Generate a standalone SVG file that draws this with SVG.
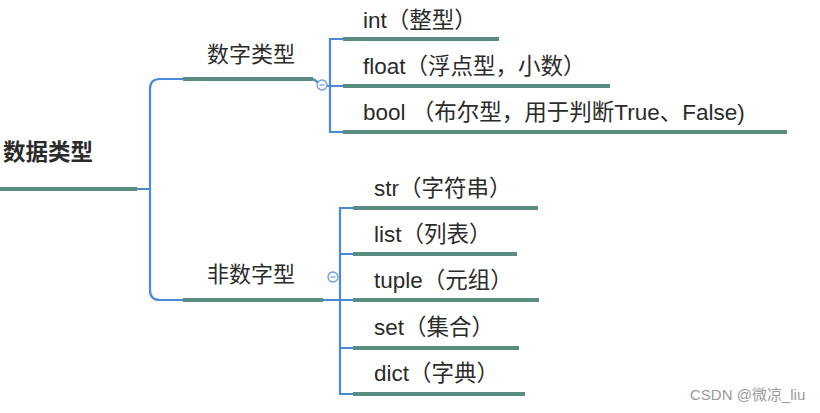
<svg xmlns="http://www.w3.org/2000/svg" width="820" height="413" viewBox="0 0 820 413">
<style>
text{font-family:"Liberation Sans","Noto Sans CJK SC",sans-serif;fill:#2b2b2b}
.leaf{font-size:22.5px}
.cat{font-size:22px}
.root{font-size:22.5px;font-weight:bold}
.ul{stroke:#5b8c80;stroke-width:4;fill:none}
.br{stroke:#4a88d8;stroke-width:2.2;fill:none}
.tog{fill:#fff;stroke:#6a9be0;stroke-width:1.3}
.tm{stroke:#6a9be0;stroke-width:1.2}
</style>
<rect width="820" height="413" fill="#fff"/>
<g id="connectors">
<path class="br" d="M137 189 H150 M183 79 H160 Q150 79 150 89 V290 Q150 300 160 300 H183"/>
<path class="br" d="M313 79 L322 85 M327 86 H343 M343 39 H330 V132 H343"/>
<path class="br" d="M323 300 H353 M353 208 H340 V394 H353 M340 254 H353 M340 348 H353"/>
</g>
<g id="root"><text class="root" x="3" y="160">数据类型</text><line class="ul" x1="0" y1="189" x2="137" y2="189"/></g>
<g id="num"><text class="cat" x="207" y="62">数字类型</text><line class="ul" x1="183" y1="79" x2="313" y2="79"/>
<circle class="tog" cx="322" cy="85" r="5"/><line class="tm" x1="319.5" y1="85" x2="324.5" y2="85"/></g>
<g id="int"><text class="leaf" x="363" y="28">int（整型）</text><line class="ul" x1="343" y1="39" x2="499" y2="39"/></g>
<g id="float"><text class="leaf" x="363" y="74">float（浮点型，小数）</text><line class="ul" x1="343" y1="86" x2="610" y2="86"/></g>
<g id="bool"><text class="leaf" x="363" y="120">bool （布尔型，用于判断True、False)</text><line class="ul" x1="343" y1="132" x2="787" y2="132"/></g>
<g id="nonnum"><text class="cat" x="207" y="282">非数字型</text><line class="ul" x1="183" y1="300" x2="323" y2="300"/>
<circle class="tog" cx="333" cy="277" r="5"/><line class="tm" x1="330.5" y1="277" x2="335.5" y2="277"/></g>
<g id="str"><text class="leaf" x="374" y="196">str（字符串）</text><line class="ul" x1="353" y1="208" x2="538" y2="208"/></g>
<g id="list"><text class="leaf" x="374" y="242">list（列表）</text><line class="ul" x1="353" y1="254" x2="517" y2="254"/></g>
<g id="tuple"><text class="leaf" x="374" y="288">tuple（元组）</text><line class="ul" x1="353" y1="300" x2="539" y2="300"/></g>
<g id="set"><text class="leaf" x="374" y="335">set（集合）</text><line class="ul" x1="353" y1="348" x2="519" y2="348"/></g>
<g id="dict"><text class="leaf" x="374" y="381">dict（字典）</text><line class="ul" x1="353" y1="394" x2="525" y2="394"/></g>
<text x="690" y="400" style="font-size:15px;fill:#9a9a9a">CSDN @微凉_liu</text>
</svg>
